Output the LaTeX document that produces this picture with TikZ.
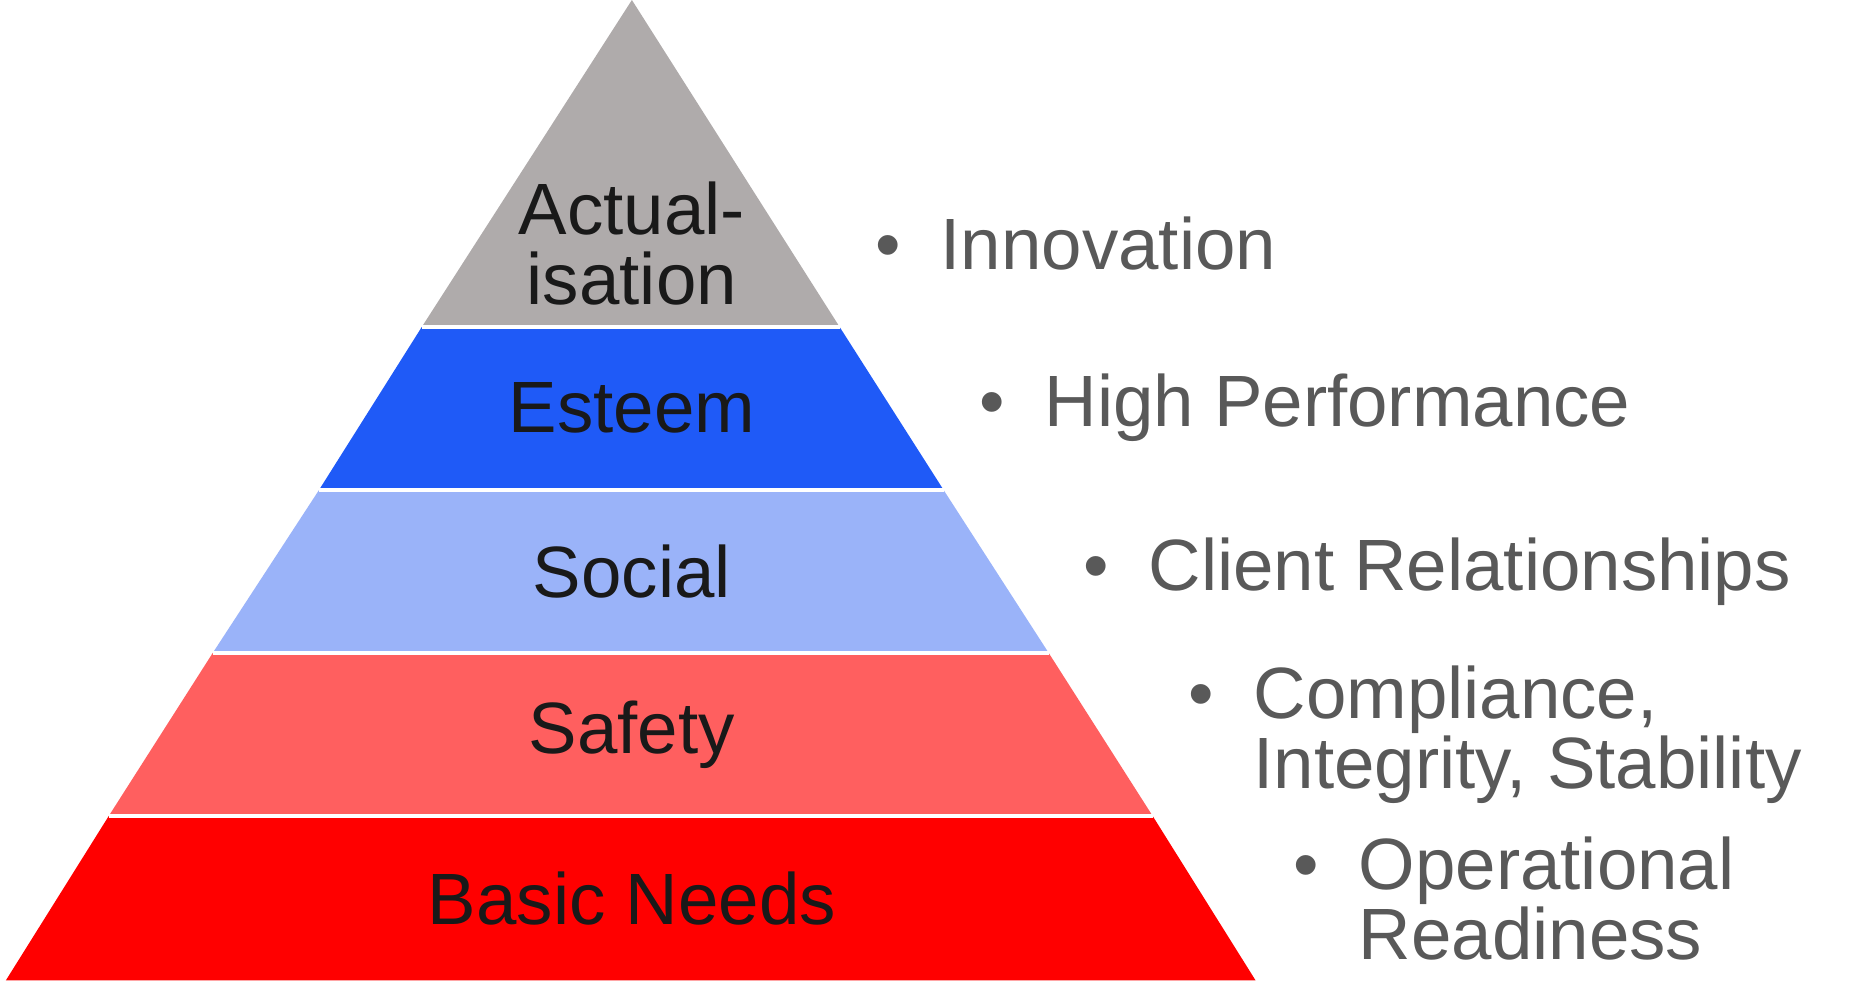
\documentclass[tikz,border=0pt]{standalone}
\usepackage{fontspec}
\setmainfont{Liberation Sans}
\definecolor{actcol}{RGB}{175,171,171}
\definecolor{estcol}{RGB}{31,90,247}
\definecolor{soccol}{RGB}{154,179,249}
\definecolor{safcol}{RGB}{255,95,95}
\definecolor{bascol}{RGB}{255,0,0}
\definecolor{txtgray}{RGB}{89,89,89}
\tikzset{
  band/.style={draw=white,line width=1pt},
  lvl/.style={font=\fontsize{17.5}{16.8}\selectfont,text=black!90,align=center},
  item/.style={anchor=west,align=left,font=\fontsize{17.5}{16.8}\selectfont,text=txtgray},
}
\newcommand{\bul}{\llap{\textbullet\hspace{0.55em}}}
\begin{document}
\begin{tikzpicture}[x=0.01cm,y=-0.01cm]
\useasboundingbox (0,0) rectangle (1568,852);
% pyramid bands
\fill[actcol](535,0)--(711,277)--(357,277)--cycle;
\fill[estcol](357,277)--(711,277)--(799,415)--(270,415)--cycle;
\fill[soccol](270,415)--(799,415)--(888,553)--(180,553)--cycle;
\fill[safcol](180,553)--(888,553)--(976,691)--(92,691)--cycle;
\fill[bascol](92,691)--(976,691)--(1063,830)--(5,830)--cycle;
\foreach \y/\l/\r in {277/357/711,415/270/799,553/180/888,691/92/976}{\draw[white,line width=1pt](\l,\y)--(\r,\y);}
% level names
\node[lvl] (act) at (535,206) {Actual-\\isation};
\node[lvl] (est) at (535,345) {Esteem};
\node[lvl] (soc) at (535,484) {Social};
\node[lvl] (saf) at (535,622) {Safety};
\node[lvl] (bas) at (535,761) {Basic Needs};
% items
\node[item] (inn) at (784,206) {\bul Innovation};
\node[item] (hp) at (872,345) {\bul High Performance};
\node[item] (cr) at (960,484) {\bul Client Relationships};
\node[item] (cis) at (1049,622) {\bul Compliance,\\Integrity, Stability};
\node[item] (opr) at (1138,761) {\bul Operational\\Readiness};
\end{tikzpicture}
\end{document}
